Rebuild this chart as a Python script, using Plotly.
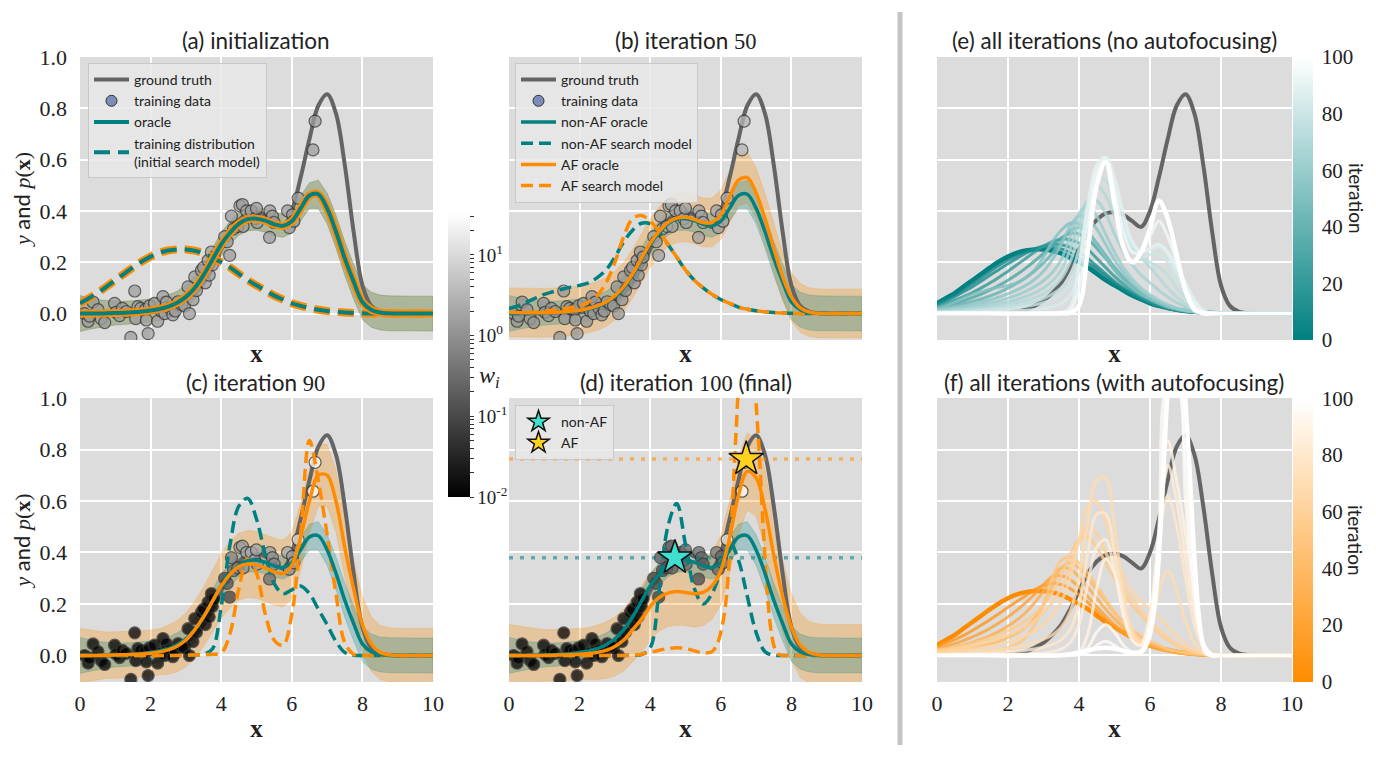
import math
import plotly.graph_objects as go
from plotly.colors import sample_colorscale

# shared x grid for all curves
XG = [0.0, 0.25, 0.5, 0.75, 1.0, 1.25, 1.5, 1.75, 2.0, 2.25, 2.5, 2.75, 3.0, 3.25, 3.5, 3.75,
      4.0, 4.25, 4.5, 4.75, 5.0, 5.25, 5.5, 5.75, 6.0, 6.25, 6.5, 6.75, 7.0, 7.25, 7.5, 7.75,
      8.0, 8.25, 8.5, 8.75, 9.0, 9.25, 9.5, 9.75, 10.0]

GROUND_TRUTH = [0, 0, 0, 0, 0, 0, 0.001, 0.002, 0.004, 0.008,
                0.015, 0.03, 0.05, 0.08, 0.12, 0.18, 0.25, 0.32, 0.365, 0.39,
                0.395, 0.385, 0.36, 0.338, 0.4, 0.53, 0.68, 0.81, 0.855, 0.78,
                0.58, 0.32, 0.11, 0.03, 0.008, 0.002, 0, 0, 0, 0, 0]

# training data
DATA_X = [0.13, 0.23, 0.27, 0.37, 0.51, 0.6, 0.7, 0.98, 1.02, 1.12,
          1.2, 1.31, 1.44, 1.55, 1.58, 1.64, 1.72, 1.85, 1.88, 1.93,
          1.97, 2.11, 2.2, 2.3, 2.35, 2.4, 2.45, 2.55, 2.63, 2.7,
          2.78, 2.88, 2.96, 3.06, 3.1, 3.2, 3.25, 3.3, 3.44, 3.5,
          3.55, 3.63, 3.66, 3.72, 3.75, 3.8,
          4.1, 4.17, 4.24, 4.29, 4.35, 4.47, 4.53, 4.6, 4.62, 4.72,
          4.85, 4.95, 5.0, 5.02, 5.37, 5.38, 5.45, 5.5, 5.88, 5.93,
          6.02, 6.06,
          6.18, 6.6, 6.66]
DATA_Y = [0.0, -0.03, -0.01, 0.045, 0.015, -0.02, -0.035, 0.04, 0.005, -0.008,
          0.02, 0.008, -0.093, 0.088, -0.02, 0.027, 0.02, 0.015, -0.025, -0.078,
          0.03, 0.04, -0.03, 0.01, 0.066, 0.0, 0.045, 0.02, -0.005, 0.01,
          0.046, 0.035, 0.03, 0.104, 0.0, 0.054, 0.143, 0.09, 0.168, 0.18,
          0.12, 0.207, 0.15, 0.24, 0.19, 0.22,
          0.3, 0.28, 0.227, 0.38, 0.33, 0.34, 0.42, 0.425, 0.34, 0.4,
          0.4, 0.37, 0.41, 0.355, 0.297, 0.4, 0.38, 0.355, 0.4, 0.335,
          0.385, 0.36,
          0.45, 0.638, 0.75]

# weights w_i of the training points in each panel
W_A = [1.5] * 71
W_B = [1.2] * 46 + [1.8] * 22 + [3.0] * 3
W_C = [0.01] * 46 + [0.1, 0.15, 0.08, 0.6, 0.4, 0.8, 1.5, 1.5, 1.0, 2.0, 2.0, 1.5, 2.0, 1.5,
                     0.3, 1.5, 1.0, 0.8, 2.0, 1.0, 1.5, 2.0] + [15.0, 30.0, 30.0]
W_D = [0.01] * 46 + [0.08, 0.1, 0.06, 0.15, 0.12, 0.15, 0.25, 0.25, 0.2, 0.3, 0.3, 0.25, 0.3, 0.25,
                     0.1, 0.3, 0.25, 0.2, 0.4, 0.25, 0.3, 0.4] + [20.0, 30.0, 30.0]

# oracles (mean and std)
ORACLE_NAF = [0, 0, 0, 0.001, 0.002, 0.003, 0.005, 0.008, 0.012, 0.018,
              0.027, 0.042, 0.065, 0.1, 0.15, 0.21, 0.27, 0.315, 0.35, 0.368,
              0.37, 0.362, 0.348, 0.342, 0.36, 0.41, 0.46, 0.465, 0.41, 0.32,
              0.215, 0.125, 0.045, 0.015, 0.004, 0.001, 0, 0, 0, 0, 0]
SD_NAF = [0.07, 0.062, 0.055, 0.05, 0.047, 0.045, 0.045, 0.045, 0.045, 0.045,
          0.045, 0.045, 0.045, 0.045, 0.045, 0.045, 0.045, 0.045, 0.045, 0.045,
          0.045, 0.045, 0.045, 0.045, 0.046, 0.048, 0.05, 0.055, 0.06, 0.064,
          0.066, 0.068, 0.068, 0.068, 0.068, 0.068, 0.068, 0.068, 0.068, 0.068, 0.068]
ORACLE_AF_B = [0.005, 0.004, 0.003, 0.003, 0.003, 0.004, 0.006, 0.009, 0.013, 0.02,
               0.03, 0.045, 0.07, 0.105, 0.155, 0.215, 0.275, 0.32, 0.355, 0.372,
               0.375, 0.367, 0.355, 0.355, 0.385, 0.455, 0.52, 0.53, 0.47, 0.37,
               0.255, 0.145, 0.065, 0.022, 0.006, 0.001, 0, 0, 0, 0, 0]
SD_AF_B = [0.095] * 24 + [0.097, 0.1, 0.1, 0.1, 0.1, 0.098] + [0.095] * 11
ORACLE_AF_C = [0, 0, 0, 0.001, 0.002, 0.003, 0.004, 0.006, 0.009, 0.014,
               0.022, 0.036, 0.06, 0.1, 0.15, 0.21, 0.27, 0.315, 0.345, 0.355,
               0.352, 0.34, 0.325, 0.318, 0.35, 0.46, 0.6, 0.7, 0.7, 0.6,
               0.42, 0.26, 0.12, 0.045, 0.012, 0.003, 0, 0, 0, 0, 0]
SD_AF_C = [0.105, 0.1, 0.095, 0.09, 0.09, 0.09, 0.09, 0.09, 0.09, 0.09,
           0.095, 0.1, 0.105, 0.11, 0.115, 0.12, 0.125, 0.13, 0.13, 0.13,
           0.13, 0.13, 0.13, 0.13, 0.13, 0.13, 0.125, 0.12, 0.12, 0.12,
           0.115, 0.11, 0.108, 0.106, 0.105, 0.105, 0.105, 0.105, 0.105, 0.105, 0.105]
ORACLE_AF_D = [0, 0, 0, 0, 0, 0.001, 0.002, 0.003, 0.005, 0.008,
               0.012, 0.02, 0.035, 0.06, 0.1, 0.14, 0.19, 0.225, 0.242, 0.248,
               0.245, 0.24, 0.245, 0.27, 0.33, 0.46, 0.62, 0.715, 0.69, 0.57,
               0.39, 0.23, 0.11, 0.04, 0.012, 0.003, 0, 0, 0, 0, 0]
SD_AF_D = [0.12, 0.115, 0.11, 0.105, 0.1, 0.1, 0.1, 0.1, 0.1, 0.1,
           0.105, 0.11, 0.115, 0.12, 0.125, 0.13, 0.13, 0.13, 0.13, 0.13,
           0.13, 0.13, 0.13, 0.13, 0.135, 0.14, 0.15, 0.15, 0.15, 0.15,
           0.145, 0.14, 0.13, 0.125, 0.12, 0.12, 0.12, 0.12, 0.12, 0.12, 0.12]

# search models
SEARCH_INIT = [0.04, 0.06, 0.08, 0.105, 0.13, 0.155, 0.18, 0.203, 0.222, 0.237,
               0.246, 0.25, 0.25, 0.245, 0.235, 0.218, 0.2, 0.18, 0.155, 0.13,
               0.11, 0.09, 0.07, 0.055, 0.04, 0.03, 0.022, 0.015, 0.01, 0.007,
               0.004, 0.002, 0.001, 0, 0, 0, 0, 0, 0, 0, 0]
SEARCH_NAF_B = [0.02, 0.03, 0.045, 0.06, 0.075, 0.085, 0.095, 0.103, 0.11, 0.12,
                0.14, 0.17, 0.22, 0.28, 0.325, 0.352, 0.35, 0.32, 0.27, 0.22,
                0.17, 0.13, 0.1, 0.075, 0.055, 0.04, 0.025, 0.017, 0.011, 0.007,
                0.004, 0.002, 0.001, 0, 0, 0, 0, 0, 0, 0, 0]
SEARCH_AF_B = [0, 0.002, 0.004, 0.006, 0.01, 0.013, 0.017, 0.023, 0.03, 0.045,
               0.07, 0.12, 0.2, 0.3, 0.37, 0.382, 0.36, 0.32, 0.27, 0.22,
               0.17, 0.13, 0.1, 0.075, 0.055, 0.04, 0.025, 0.017, 0.011, 0.007,
               0.004, 0.002, 0.001, 0, 0, 0, 0, 0, 0, 0, 0]
SEARCH_NAF_C = [0, 0, 0, 0, 0, 0, 0, 0, 0, 0,
                0, 0, 0.001, 0.002, 0.005, 0.025, 0.19, 0.43, 0.58, 0.61,
                0.53, 0.39, 0.28, 0.24, 0.255, 0.27, 0.24, 0.18, 0.12, 0.055,
                0.012, 0.001, 0, 0, 0, 0, 0, 0, 0, 0, 0]
SEARCH_AF_C = [0, 0, 0, 0, 0, 0, 0, 0, 0, 0,
               0, 0, 0.001, 0.002, 0.003, 0.005, 0.01, 0.085, 0.26, 0.375,
               0.32, 0.16, 0.06, 0.04, 0.16, 0.47, 0.835, 0.68, 0.47, 0.24,
               0.05, 0.005, 0, 0, 0, 0, 0, 0, 0, 0, 0]
SEARCH_NAF_D = [0, 0, 0, 0, 0, 0, 0, 0, 0, 0,
                0, 0, 0, 0, 0.001, 0.003, 0.03, 0.25, 0.5, 0.59,
                0.43, 0.26, 0.2, 0.24, 0.33, 0.44, 0.37, 0.23, 0.09, 0.015,
                0.001, 0, 0, 0, 0, 0, 0, 0, 0, 0, 0]
X_AF_D = [0, 3.0, 3.5, 3.75, 4.0, 4.25, 4.5, 4.75, 5.0, 5.25, 5.5, 5.75, 5.9, 6.0, 6.1, 6.2,
          6.3, 6.4, 6.5, 6.6, 6.7, 6.8, 6.9, 7.0, 7.1, 7.2, 7.3, 7.4, 7.5, 7.6, 7.75, 8.0, 10.0]
SEARCH_AF_D = [0, 0, 0.001, 0.005, 0.012, 0.02, 0.027, 0.03, 0.027, 0.018, 0.01, 0.015, 0.045,
               0.09, 0.16, 0.29, 0.5, 0.78, 1.05, 1.3, 1.42, 1.38, 1.2, 0.98, 0.76, 0.5, 0.28,
               0.12, 0.04, 0.008, 0, 0, 0]

# best points found (stars) in panel d
STAR_NAMES = ["non-AF", "AF"]
STAR_X = [4.7, 6.72]
STAR_Y = [0.38, 0.763]

# search models across iterations, no autofocusing (panel e)
E_5 = [0.038, 0.055, 0.073, 0.095, 0.118, 0.141, 0.165, 0.188, 0.209, 0.227,
       0.241, 0.251, 0.257, 0.258, 0.252, 0.238, 0.22, 0.198, 0.172, 0.145,
       0.118, 0.095, 0.074, 0.056, 0.041, 0.03, 0.021, 0.014, 0.009, 0.006,
       0.003, 0.001, 0, 0, 0, 0, 0, 0, 0, 0, 0]
E_10 = [0.035, 0.05, 0.066, 0.085, 0.105, 0.127, 0.15, 0.172, 0.194, 0.215,
        0.235, 0.252, 0.264, 0.27, 0.268, 0.258, 0.24, 0.215, 0.185, 0.155,
        0.125, 0.1, 0.078, 0.058, 0.042, 0.03, 0.02, 0.013, 0.008, 0.005,
        0.003, 0.001, 0, 0, 0, 0, 0, 0, 0, 0, 0]
E_20 = [0.03, 0.04, 0.052, 0.066, 0.082, 0.1, 0.12, 0.142, 0.165, 0.19,
        0.215, 0.24, 0.263, 0.28, 0.29, 0.288, 0.275, 0.25, 0.215, 0.18,
        0.145, 0.115, 0.088, 0.065, 0.047, 0.033, 0.022, 0.014, 0.009, 0.005,
        0.003, 0.001, 0, 0, 0, 0, 0, 0, 0, 0, 0]
E_30 = [0.025, 0.032, 0.04, 0.05, 0.062, 0.076, 0.092, 0.11, 0.13, 0.152,
        0.177, 0.205, 0.235, 0.265, 0.295, 0.313, 0.31, 0.29, 0.255, 0.215,
        0.172, 0.135, 0.103, 0.077, 0.056, 0.039, 0.026, 0.017, 0.011, 0.006,
        0.003, 0.001, 0, 0, 0, 0, 0, 0, 0, 0, 0]
E_40 = [0.02, 0.025, 0.031, 0.038, 0.047, 0.057, 0.069, 0.083, 0.099, 0.118,
        0.14, 0.166, 0.197, 0.235, 0.28, 0.322, 0.335, 0.315, 0.275, 0.228,
        0.182, 0.142, 0.108, 0.08, 0.058, 0.041, 0.027, 0.018, 0.011, 0.006,
        0.003, 0.001, 0, 0, 0, 0, 0, 0, 0, 0, 0]
E_55 = [0.016, 0.02, 0.025, 0.03, 0.037, 0.045, 0.054, 0.065, 0.077, 0.092,
        0.11, 0.133, 0.165, 0.21, 0.27, 0.34, 0.38, 0.37, 0.33, 0.27,
        0.21, 0.16, 0.12, 0.09, 0.065, 0.046, 0.031, 0.02, 0.012, 0.007,
        0.003, 0.001, 0, 0, 0, 0, 0, 0, 0, 0, 0]
E_60 = [0.012, 0.015, 0.019, 0.023, 0.028, 0.034, 0.041, 0.05, 0.06, 0.072,
        0.087, 0.105, 0.128, 0.16, 0.21, 0.3, 0.39, 0.42, 0.38, 0.31,
        0.24, 0.18, 0.135, 0.1, 0.073, 0.052, 0.035, 0.022, 0.013, 0.007,
        0.003, 0.001, 0, 0, 0, 0, 0, 0, 0, 0, 0]
E_65 = [0.009, 0.012, 0.015, 0.018, 0.022, 0.026, 0.032, 0.038, 0.046, 0.055,
        0.067, 0.081, 0.1, 0.127, 0.17, 0.25, 0.36, 0.44, 0.44, 0.39,
        0.31, 0.24, 0.19, 0.15, 0.12, 0.09, 0.065, 0.043, 0.026, 0.013,
        0.005, 0.001, 0, 0, 0, 0, 0, 0, 0, 0, 0]
E_70 = [0.007, 0.009, 0.011, 0.013, 0.016, 0.02, 0.024, 0.029, 0.035, 0.042,
        0.051, 0.062, 0.077, 0.1, 0.135, 0.2, 0.31, 0.44, 0.5, 0.46,
        0.38, 0.31, 0.26, 0.22, 0.18, 0.14, 0.1, 0.065, 0.038, 0.018,
        0.007, 0.002, 0, 0, 0, 0, 0, 0, 0, 0, 0]
E_75 = [0.005, 0.007, 0.008, 0.01, 0.012, 0.015, 0.018, 0.022, 0.026, 0.032,
        0.039, 0.047, 0.058, 0.076, 0.1, 0.15, 0.25, 0.41, 0.53, 0.52,
        0.42, 0.32, 0.26, 0.22, 0.2, 0.18, 0.15, 0.1, 0.06, 0.027,
        0.009, 0.002, 0, 0, 0, 0, 0, 0, 0, 0, 0]
E_80 = [0.004, 0.005, 0.006, 0.007, 0.009, 0.011, 0.013, 0.016, 0.019, 0.023,
        0.028, 0.034, 0.042, 0.055, 0.075, 0.11, 0.2, 0.38, 0.54, 0.57,
        0.46, 0.33, 0.25, 0.22, 0.23, 0.23, 0.2, 0.14, 0.08, 0.035,
        0.01, 0.002, 0, 0, 0, 0, 0, 0, 0, 0, 0]
E_85 = [0.002, 0.002, 0.003, 0.003, 0.004, 0.005, 0.006, 0.007, 0.009, 0.011,
        0.013, 0.016, 0.02, 0.027, 0.04, 0.07, 0.17, 0.39, 0.57, 0.6,
        0.5, 0.36, 0.27, 0.24, 0.25, 0.26, 0.23, 0.16, 0.1, 0.045,
        0.012, 0.002, 0, 0, 0, 0, 0, 0, 0, 0, 0]
E_95 = [0, 0, 0, 0, 0, 0, 0, 0, 0, 0,
        0, 0, 0, 0.001, 0.003, 0.012, 0.1, 0.34, 0.55, 0.6,
        0.48, 0.32, 0.24, 0.24, 0.3, 0.36, 0.3, 0.2, 0.1, 0.035,
        0.005, 0, 0, 0, 0, 0, 0, 0, 0, 0, 0]
E_ITERS = [0, 5, 10, 20, 30, 40, 50, 55, 60, 65, 70, 75, 80, 85, 90, 95, 100]
E_CURVES = [SEARCH_INIT, E_5, E_10, E_20, E_30, E_40, SEARCH_NAF_B, E_55, E_60, E_65, E_70,
            E_75, E_80, E_85, SEARCH_NAF_C, E_95, SEARCH_NAF_D]

# search models across iterations, with autofocusing (panel f)
F_10 = [0.035, 0.048, 0.062, 0.078, 0.097, 0.118, 0.14, 0.163, 0.187, 0.21,
        0.232, 0.255, 0.272, 0.28, 0.275, 0.26, 0.235, 0.205, 0.172, 0.14,
        0.11, 0.085, 0.065, 0.048, 0.035, 0.025, 0.017, 0.011, 0.007, 0.004,
        0.002, 0.001, 0, 0, 0, 0, 0, 0, 0, 0, 0]
F_20 = [0.028, 0.036, 0.046, 0.058, 0.072, 0.088, 0.106, 0.127, 0.15, 0.176,
        0.205, 0.238, 0.275, 0.305, 0.31, 0.295, 0.265, 0.228, 0.19, 0.153,
        0.12, 0.092, 0.069, 0.05, 0.036, 0.025, 0.017, 0.011, 0.007, 0.004,
        0.002, 0.001, 0, 0, 0, 0, 0, 0, 0, 0, 0]
F_30 = [0.02, 0.026, 0.033, 0.041, 0.051, 0.063, 0.077, 0.094, 0.114, 0.138,
        0.167, 0.205, 0.25, 0.305, 0.34, 0.335, 0.305, 0.265, 0.222, 0.18,
        0.142, 0.11, 0.082, 0.06, 0.043, 0.03, 0.02, 0.013, 0.008, 0.005,
        0.002, 0.001, 0, 0, 0, 0, 0, 0, 0, 0, 0]
F_40 = [0.01, 0.014, 0.018, 0.023, 0.029, 0.036, 0.045, 0.056, 0.07, 0.087,
        0.11, 0.145, 0.2, 0.27, 0.34, 0.36, 0.34, 0.3, 0.255, 0.21,
        0.165, 0.127, 0.095, 0.07, 0.05, 0.035, 0.023, 0.015, 0.009, 0.005,
        0.002, 0.001, 0, 0, 0, 0, 0, 0, 0, 0, 0]
F_55 = [0.02, 0.026, 0.032, 0.039, 0.047, 0.057, 0.068, 0.081, 0.096, 0.114,
        0.135, 0.162, 0.197, 0.245, 0.31, 0.39, 0.45, 0.46, 0.42, 0.36,
        0.3, 0.245, 0.196, 0.155, 0.118, 0.087, 0.06, 0.039, 0.023, 0.012,
        0.005, 0.001, 0, 0, 0, 0, 0, 0, 0, 0, 0]
F_60 = [0.015, 0.02, 0.025, 0.031, 0.038, 0.046, 0.055, 0.066, 0.079, 0.094,
        0.112, 0.135, 0.165, 0.205, 0.26, 0.34, 0.44, 0.5, 0.47, 0.4,
        0.33, 0.27, 0.22, 0.175, 0.135, 0.1, 0.07, 0.045, 0.027, 0.014,
        0.006, 0.002, 0, 0, 0, 0, 0, 0, 0, 0, 0]
F_65 = [0.01, 0.013, 0.016, 0.02, 0.025, 0.03, 0.036, 0.043, 0.052, 0.063,
        0.077, 0.095, 0.12, 0.155, 0.21, 0.3, 0.45, 0.58, 0.6, 0.52,
        0.4, 0.31, 0.25, 0.21, 0.18, 0.15, 0.11, 0.075, 0.045, 0.022,
        0.008, 0.002, 0, 0, 0, 0, 0, 0, 0, 0, 0]
F_70 = [0.005, 0.006, 0.008, 0.01, 0.012, 0.015, 0.018, 0.022, 0.027, 0.033,
        0.04, 0.05, 0.063, 0.08, 0.11, 0.17, 0.3, 0.52, 0.68, 0.69,
        0.5, 0.25, 0.1, 0.06, 0.1, 0.25, 0.33, 0.25, 0.13, 0.05,
        0.012, 0.002, 0, 0, 0, 0, 0, 0, 0, 0, 0]
F_80 = [0.002, 0.003, 0.004, 0.005, 0.006, 0.007, 0.009, 0.011, 0.013, 0.016,
        0.02, 0.025, 0.032, 0.042, 0.06, 0.1, 0.2, 0.4, 0.55, 0.55,
        0.4, 0.2, 0.08, 0.05, 0.15, 0.45, 0.62, 0.5, 0.3, 0.12,
        0.03, 0.005, 0, 0, 0, 0, 0, 0, 0, 0, 0]
F_85 = [0, 0, 0, 0, 0.001, 0.001, 0.002, 0.002, 0.003, 0.004,
        0.005, 0.007, 0.01, 0.015, 0.025, 0.05, 0.12, 0.28, 0.42, 0.45,
        0.33, 0.16, 0.06, 0.04, 0.15, 0.45, 0.74, 0.6, 0.38, 0.17,
        0.04, 0.006, 0, 0, 0, 0, 0, 0, 0, 0, 0]
F_95 = [0, 0, 0, 0, 0, 0, 0, 0, 0, 0,
        0, 0, 0, 0, 0, 0.001, 0.005, 0.03, 0.09, 0.12,
        0.09, 0.04, 0.015, 0.02, 0.12, 0.5, 1.05, 1.05, 0.6, 0.22,
        0.04, 0.003, 0, 0, 0, 0, 0, 0, 0, 0, 0]
F_98 = [0, 0, 0, 0, 0, 0, 0, 0, 0, 0,
        0, 0, 0, 0, 0, 0, 0.002, 0.012, 0.04, 0.055,
        0.04, 0.016, 0.005, 0.008, 0.07, 0.4, 1.1, 1.25, 0.75, 0.28,
        0.05, 0.004, 0, 0, 0, 0, 0, 0, 0, 0, 0]
F_ITERS = [0, 10, 20, 30, 40, 50, 55, 60, 65, 70, 80, 85, 90, 95, 98, 100]
F_CURVES = [SEARCH_INIT, F_10, F_20, F_30, F_40, SEARCH_AF_B, F_55, F_60, F_65, F_70, F_80, F_85,
            SEARCH_AF_C, F_95, F_98, SEARCH_AF_D]
F_XS = [XG] * 15 + [X_AF_D]

X_TICKS = [0, 2, 4, 6, 8, 10]
Y_TICKS = [0.0, 0.2, 0.4, 0.6, 0.8, 1.0]

TEAL = "#008080"
ORANGE = "#ff8c00"
GT_COLOR = "#646464"
BG = "#dcdcdc"
SERIF = "Liberation Serif"
SANS = "Lato"
TEAL_SCALE = [[0, TEAL], [1, "#ffffff"]]
ORANGE_SCALE = [[0, ORANGE], [1, "#ffffff"]]
GRAY_SCALE = [[0, "#000000"], [1, "#ffffff"]]
W_MAX = math.log10(33)

W, H, OFF = 1376, 759, 8  # page body margin shifts the figure by 8px


def fx(px):
    return (px - OFF) / W


def fy(py):
    return 1 - (py - OFF) / H


fig = go.Figure()


def axes(p):
    return dict(xaxis="x" if p == 1 else "x%d" % p, yaxis="y" if p == 1 else "y%d" % p)


def band(p, mean, sd, color):
    lo = [m - s for m, s in zip(mean, sd)]
    hi = [m + s for m, s in zip(mean, sd)]
    fig.add_trace(go.Scatter(x=XG + XG[::-1], y=hi + lo[::-1], fill="toself", fillcolor=color,
                             line=dict(width=0.8, color=color), mode="lines",
                             showlegend=False, hoverinfo="skip", **axes(p)))


def curve(p, x, y, color, width=3.5, dash=None, **kw):
    fig.add_trace(go.Scatter(x=x, y=y, mode="lines",
                             line=dict(color=color, width=width, dash=dash, shape="spline"),
                             showlegend=kw.pop("showlegend", False), **kw, **axes(p)))


def points(p, weights, showscale=False):
    cb = dict(x=fx(448), xanchor="left", y=fy(355), yanchor="middle",
              len=284, lenmode="pixels", thickness=22, outlinewidth=0,
              tickvals=[math.log10(m * 10 ** e) for e in (-2, -1, 0, 1) for m in range(1, 10)
                        if m * 10 ** e <= 33],
              ticktext=[("10<sup>%d</sup>" % e if m == 1 else " ") for e in (-2, -1, 0, 1)
                        for m in range(1, 10) if m * 10 ** e <= 33],
              ticks="outside", ticklen=4, tickcolor="#333",
              tickfont=dict(family=SERIF, size=19, color="#222"), xpad=0, ypad=0)
    fig.add_trace(go.Scatter(x=DATA_X, y=DATA_Y, mode="markers", showlegend=False,
                             marker=dict(size=12, color=[math.log10(w) for w in weights],
                                         colorscale=GRAY_SCALE, cmin=-2, cmax=W_MAX,
                                         opacity=0.75, line=dict(color="#333333", width=1.2),
                                         showscale=showscale, colorbar=cb),
                             **axes(p)))


def legend_marker(p, legend):
    fig.add_trace(go.Scatter(x=[None], y=[None], mode="markers", name="training data",
                             legend=legend, legendrank=2,
                             marker=dict(size=11, color="#7b8db8", line=dict(color="#333", width=1)),
                             **axes(p)))


DASH_A = "16px,8px"
DASH = "12px,6px"

# (a) initialization
band(1, ORACLE_NAF, SD_NAF, "rgba(255,140,0,0.25)")
band(1, ORACLE_NAF, SD_NAF, "rgba(0,128,128,0.25)")
curve(1, XG, GROUND_TRUTH, GT_COLOR, 4, name="ground truth", showlegend=True, legend="legend",
      legendrank=1)
points(1, W_A)
legend_marker(1, "legend")
curve(1, XG, SEARCH_INIT, ORANGE, 8, DASH_A)
curve(1, XG, SEARCH_INIT, TEAL, 4, DASH_A, name="training distribution<br>(initial search model)",
      showlegend=True, legend="legend", legendrank=4)
curve(1, XG, ORACLE_NAF, ORANGE, 8)
curve(1, XG, ORACLE_NAF, TEAL, 4, name="oracle", showlegend=True, legend="legend", legendrank=3)

# (b) iteration 50
band(2, ORACLE_AF_B, SD_AF_B, "rgba(255,140,0,0.28)")
band(2, ORACLE_NAF, SD_NAF, "rgba(0,128,128,0.25)")
curve(2, XG, GROUND_TRUTH, GT_COLOR, 4, name="ground truth", showlegend=True, legend="legend2",
      legendrank=1)
points(2, W_B)
legend_marker(2, "legend2")
curve(2, XG, SEARCH_NAF_B, TEAL, 3.5, DASH, name="non-AF search model", showlegend=True,
      legend="legend2", legendrank=4)
curve(2, XG, SEARCH_AF_B, ORANGE, 3.5, DASH, name="AF search model", showlegend=True,
      legend="legend2", legendrank=6)
curve(2, XG, ORACLE_NAF, TEAL, 3.5, name="non-AF oracle", showlegend=True, legend="legend2",
      legendrank=3)
curve(2, XG, ORACLE_AF_B, ORANGE, 3.5, name="AF oracle", showlegend=True, legend="legend2",
      legendrank=5)

# (c) iteration 90
band(3, ORACLE_AF_C, SD_AF_C, "rgba(255,140,0,0.28)")
band(3, ORACLE_NAF, SD_NAF, "rgba(0,128,128,0.25)")
curve(3, XG, GROUND_TRUTH, GT_COLOR, 4)
points(3, W_C, showscale=True)
curve(3, XG, SEARCH_NAF_C, TEAL, 3.5, DASH)
curve(3, XG, SEARCH_AF_C, ORANGE, 3.5, DASH)
curve(3, XG, ORACLE_NAF, TEAL, 3.5)
curve(3, XG, ORACLE_AF_C, ORANGE, 3.5)

# (d) iteration 100 (final)
band(4, ORACLE_AF_D, SD_AF_D, "rgba(255,140,0,0.28)")
band(4, ORACLE_NAF, SD_NAF, "rgba(0,128,128,0.25)")
curve(4, XG, GROUND_TRUTH, GT_COLOR, 4)
points(4, W_D)
for sy, col in zip(STAR_Y, ["rgba(0,128,128,0.55)", "rgba(255,140,0,0.55)"]):
    fig.add_trace(go.Scatter(x=[0, 10], y=[sy, sy], mode="lines", showlegend=False,
                             line=dict(color=col, width=3.5, dash="4px,7px"), **axes(4)))
curve(4, XG, SEARCH_NAF_D, TEAL, 3.5, DASH)
curve(4, X_AF_D, SEARCH_AF_D, ORANGE, 3.5, DASH)
curve(4, XG, ORACLE_NAF, TEAL, 3.5)
curve(4, XG, ORACLE_AF_D, ORANGE, 3.5)
for name, sx, sy, col in zip(STAR_NAMES, STAR_X, STAR_Y, ["#40e0d0", "#ffd21f"]):
    fig.add_trace(go.Scatter(x=[sx], y=[sy], mode="markers", name=name, legend="legend3",
                             marker=dict(symbol="star", size=26, color=col,
                                         line=dict(color="#111", width=1.5)), **axes(4)))

# (e) / (f) all iterations
for p, iters, curves, xs, scale in [
        (5, E_ITERS, E_CURVES, [XG] * len(E_CURVES), TEAL_SCALE),
        (6, F_ITERS, F_CURVES, F_XS, ORANGE_SCALE)]:
    curve(p, XG, GROUND_TRUTH, GT_COLOR, 4)
    cols = sample_colorscale(scale, [it / 100 for it in iters])
    for i, (it, y, x, c) in enumerate(zip(iters, curves, xs, cols)):
        end = i in (0, len(iters) - 1)
        curve(p, x, y, c, 4.5 if end else 3, opacity=1 if end else 0.8)
    fig.add_trace(go.Scatter(
        x=[None] * len(iters), y=[None] * len(iters), mode="markers", showlegend=False,
        marker=dict(color=iters, colorscale=scale, cmin=0, cmax=100, showscale=True,
                    colorbar=dict(x=fx(1293), xanchor="left",
                                  y=fy(198.5 if p == 5 else 540), yanchor="middle",
                                  len=283, lenmode="pixels", thickness=20, outlinewidth=0,
                                  tickvals=[0, 20, 40, 60, 80, 100], ticks="outside",
                                  ticklen=5, tickcolor="rgba(0,0,0,0)",
                                  tickfont=dict(family=SERIF, size=21, color="#222"),
                                  xpad=0, ypad=0)),
        **axes(p)))

# layout
XDOM = {1: [80, 433], 2: [509, 862], 3: [80, 433], 4: [509, 862], 5: [937, 1292], 6: [937, 1292]}
YDOM = {1: [57, 340], 2: [57, 340], 5: [57, 340], 3: [398, 682], 4: [398, 682], 6: [398, 682]}
BOTTOM = {3, 4, 6}
LEFT = {1, 3}

layout = dict(width=W, height=H, margin=dict(l=0, r=0, t=0, b=0, autoexpand=False),
              paper_bgcolor="white", plot_bgcolor=BG, showlegend=True,
              font=dict(family=SANS, color="#222"))
ytitle = ('<span style="font-family:%s"><i>y</i></span> and '
          '<span style="font-family:%s"><i>p</i>(<b>x</b>)</span>' % (SERIF, SERIF))
for p in range(1, 7):
    xs = "xaxis" if p == 1 else "xaxis%d" % p
    ys = "yaxis" if p == 1 else "yaxis%d" % p
    layout[xs] = dict(domain=[fx(XDOM[p][0]), fx(XDOM[p][1])], range=[0, 10],
                      anchor="y" if p == 1 else "y%d" % p, tickvals=X_TICKS,
                      showticklabels=p in BOTTOM, gridcolor="white", gridwidth=1.5,
                      zeroline=False, showline=False, ticks="", automargin=False,
                      ticklabelstandoff=6,
                      tickfont=dict(family=SERIF, size=22, color="#222"),
                      title=dict(text="<b>x</b>", font=dict(family=SERIF, size=25, color="#222"),
                                 standoff=4))
    layout[ys] = dict(domain=[fy(YDOM[p][1]), fy(YDOM[p][0])], range=[-0.103, 1.0],
                      anchor="x" if p == 1 else "x%d" % p, tickvals=Y_TICKS, tickformat=".1f",
                      showticklabels=p in LEFT, gridcolor="white", gridwidth=1.5,
                      zeroline=False, showline=False, ticks="", automargin=False,
                      ticklabelstandoff=12,
                      tickfont=dict(family=SERIF, size=22, color="#222"),
                      title=dict(text=ytitle if p in LEFT else "",
                                 font=dict(family=SANS, size=22, color="#222"), standoff=4))

leg = dict(xanchor="left", yanchor="top", bgcolor="rgba(232,232,232,0.85)",
           bordercolor="#c8c8c8", borderwidth=1, font=dict(family=SANS, size=14, color="#222"),
           itemwidth=35, tracegroupgap=0)
layout["legend"] = dict(leg, x=fx(88), y=fy(63))
layout["legend2"] = dict(leg, x=fx(515), y=fy(63))
layout["legend3"] = dict(leg, x=fx(515), y=fy(405))

SN = '<span style="font-family:%s">%%s</span>' % SERIF
TITLES = [("(a) initialization", 256, 40),
          ("(b) iteration " + SN % "50", 686, 40),
          ("(c) iteration " + SN % "90", 256, 382),
          ("(d) iteration " + SN % "100" + " (final)", 686, 382),
          ("(e) all iterations (no autofocusing)", 1114, 40),
          ("(f) all iterations (with autofocusing)", 1114, 382)]
ann = [dict(text=t, x=fx(x), y=fy(y), xref="paper", yref="paper", showarrow=False,
            xanchor="center", yanchor="middle", font=dict(family=SANS, size=22.5, color="#222"))
       for t, x, y in TITLES]
for yc in (198, 540):
    ann.append(dict(text="iteration", x=fx(1356), y=fy(yc), xref="paper", yref="paper",
                    xanchor="center", yanchor="middle", showarrow=False, textangle=90,
                    font=dict(family=SANS, size=19, color="#222")))
ann.append(dict(text="<i>w<sub>i</sub></i>", x=fx(489), y=fy(377), xref="paper",
                yref="paper", xanchor="center", yanchor="middle", showarrow=False,
                font=dict(family=SERIF, size=24, color="#222")))
layout["annotations"] = ann
layout["shapes"] = [dict(type="line", xref="paper", yref="paper", x0=fx(900), x1=fx(900),
                         y0=fy(745), y1=fy(12), line=dict(color="#c4c4c4", width=5))]

fig.update_layout(**layout)
fig.write_html("out.html")
